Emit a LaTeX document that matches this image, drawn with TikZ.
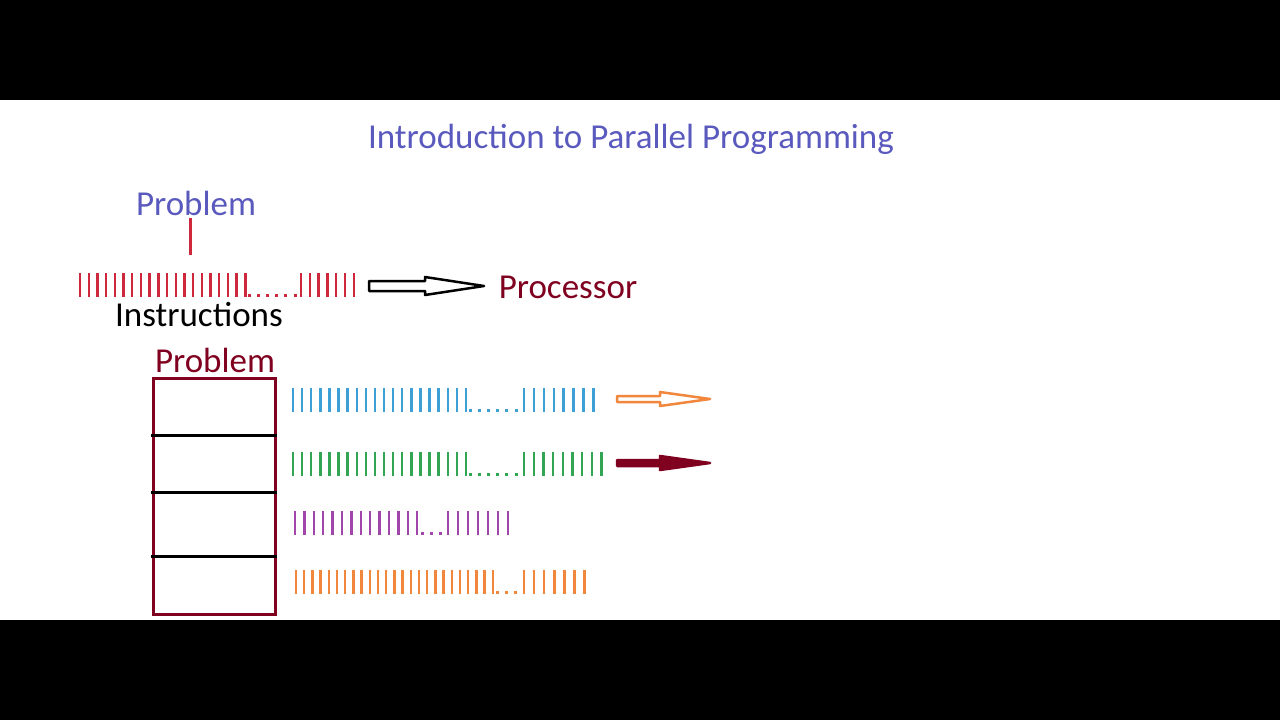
\documentclass[tikz,border=0pt]{standalone}
\usepackage{fontspec}
\setmainfont{Carlito}
\begin{document}
\begin{tikzpicture}[x=1pt,y=-1pt]
\definecolor{ttl}{RGB}{90,90,190}
\definecolor{dred}{RGB}{128,0,32}
\definecolor{bred}{RGB}{205,40,60}
\definecolor{cblue}{RGB}{60,160,215}
\definecolor{cgreen}{RGB}{50,165,85}
\definecolor{cpurp}{RGB}{160,70,170}
\definecolor{corg}{RGB}{240,135,60}
\tikzset{lbl/.style={inner sep=0pt,font=\fontsize{35}{38}\selectfont},
 fat/.style={line width=2.5pt,line join=round},
 bar/.style={line width=2.4pt},
 dotm/.style={inner sep=0pt,minimum size=3pt,fill}}
\newcommand{\bargroup}[5]{\foreach \i in {1,...,#4} \draw[bar,#1] ({#3+(\i-1)*#5},#2-12) -- ++(0,24);}
\newcommand{\dotgroup}[4]{\foreach \i in {1,...,#4} \node[dotm,fill=#1] at ({#3+(\i-1)*9.2},#2+10) {};}
\fill[black] (0,0) rectangle (1280,720);
\fill[white] (0,100) rectangle (1280,620);
\node[lbl,text=ttl] (title) at (631,139) {Introduction to Parallel Programming};
\node[lbl,text=ttl] (p1) at (196,203) {Problem};
\draw[bred,line width=3pt] (190,218) -- (190,255);
\bargroup{bred}{285}{80}{20}{8.7}\dotgroup{bred}{285}{249}{6}\bargroup{bred}{285}{301}{7}{8.8}
\draw[fat,black] (369,281)--(425,281)--(425,277)--(484,286)--(425,295)--(425,291)--(369,291)--cycle;
\node[lbl,text=dred] (proc) at (568,287) {Processor};
\node[lbl,text=black] (ins) at (199,315) {Instructions};
\node[lbl,text=dred] (p2) at (215,360) {Problem};
\draw[dred,line width=3pt] (153,378) rectangle (275,614);
\foreach \y in {435,492,556} \draw[black,line width=3pt] (151,\y) -- (277,\y);
\bargroup{cblue}{400}{293}{20}{9.1}\dotgroup{cblue}{400}{470}{6}\bargroup{cblue}{400}{524}{8}{9.9}
\bargroup{cgreen}{464}{293}{20}{9.1}\dotgroup{cgreen}{464}{470}{6}\bargroup{cgreen}{464}{524}{9}{9.7}
\bargroup{cpurp}{523}{295}{14}{9.4}\dotgroup{cpurp}{523}{422}{3}\bargroup{cpurp}{523}{448}{7}{10}
\bargroup{corg}{582}{296}{25}{8.2}\dotgroup{corg}{582}{497}{3}\bargroup{corg}{582}{524}{7}{10.1}
\draw[fat,corg] (617,396)--(660,396)--(660,392)--(710,399)--(660,406)--(660,402)--(617,402)--cycle;
\draw[fat,dred,fill=dred] (617,460)--(660,460)--(660,456)--(710,463)--(660,470)--(660,466)--(617,466)--cycle;
\end{tikzpicture}
\end{document}
